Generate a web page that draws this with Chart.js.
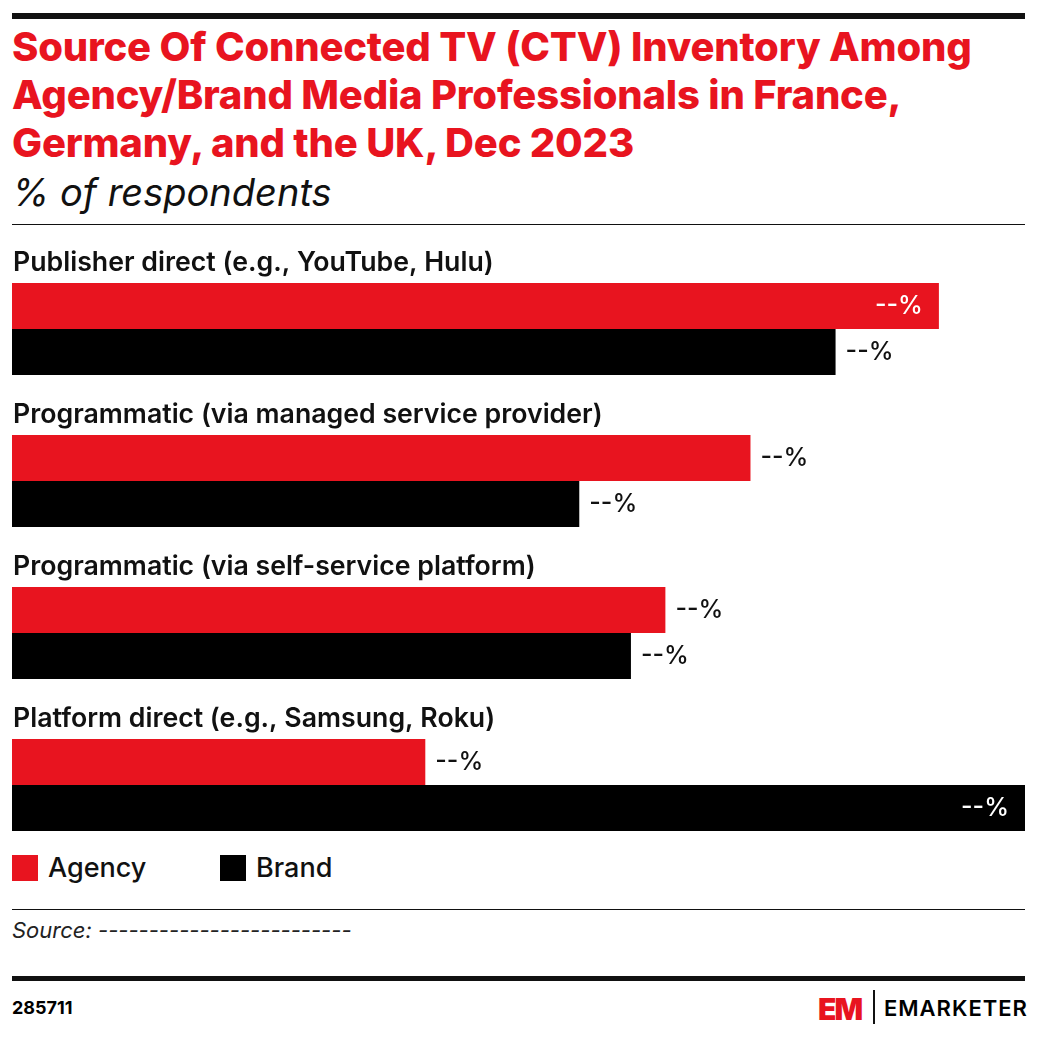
<!DOCTYPE html>
<html><head><meta charset="utf-8">
<script src="https://cdn.jsdelivr.net/npm/chart.js@4"></script>
<style>
body{margin:0;width:1038px;height:1037px;background:#fff;font-family:Inter,"Noto Sans",sans-serif;position:relative;overflow:hidden}
.abs{position:absolute}
.title{left:12px;top:23px;color:#e8141f;font-weight:800;font-size:40px;line-height:48px;letter-spacing:-0.2px;white-space:nowrap}
.sub{left:12px;top:169px;font-style:italic;font-size:38px;color:#111}
.rule{left:12px;width:1013px;background:#111}
.leg{top:851px;font-size:27px;font-weight:500;color:#111}
.sq{display:inline-block;width:26px;height:26px;vertical-align:-4px;margin-right:10px}
</style></head><body>
<div class="abs rule" style="top:13px;height:6px"></div>
<div class="abs title">Source Of Connected TV (CTV) Inventory Among<br>Agency/Brand Media Professionals in France,<br>Germany, and the UK, Dec 2023</div>
<div class="abs sub">% of respondents</div>
<div class="abs rule" style="top:224px;height:1px"></div>
<div class="abs" style="left:12px;top:230px;width:1013px;height:608px"><canvas id="c"></canvas></div>
<div class="abs leg" style="left:12px"><span class="sq" style="background:#e8141f"></span>Agency</div>
<div class="abs leg" style="left:220px"><span class="sq" style="background:#000"></span>Brand</div>
<div class="abs rule" style="top:909px;height:1px"></div>
<div class="abs" style="left:12px;top:917px;font-style:italic;font-size:22px;color:#222">Source: -------------------------</div>
<div class="abs rule" style="top:976px;height:5px"></div>
<div class="abs" style="left:12px;top:997px;font-weight:700;font-size:18px">285711</div>
<div class="abs" style="left:818px;top:991px;font-weight:900;font-size:30px;color:#e8141f;letter-spacing:-2px">EM</div>
<div class="abs" style="left:873px;top:990px;width:2px;height:34px;background:#111"></div>
<div class="abs" style="left:884px;top:995px;font-weight:600;font-size:22px;letter-spacing:1px">EMARKETER</div>
<script>
const categories = ['Publisher direct (e.g., YouTube, Hulu)','Programmatic (via managed service provider)','Programmatic (via self-service platform)','Platform direct (e.g., Samsung, Roku)'];
const agency = [91.5, 72.9, 64.5, 40.8];
const brand = [81.3, 56.0, 61.1, 100];
const valueLabel = '--%';

const labelsPlugin = {
  id: 'labels',
  afterDatasetsDraw(chart) {
    const ctx = chart.ctx;
    ctx.save();
    ctx.textBaseline = 'middle';
    chart.getDatasetMeta(0).data.forEach((el, i) => {
      ctx.fillStyle = '#111';
      ctx.font = '600 26.7px Inter, sans-serif';
      ctx.textAlign = 'left';
      ctx.fillText(categories[i], 1, el.y + 3);
    });
    [1, 2].forEach(d => {
      const vals = chart.data.datasets[d].data;
      chart.getDatasetMeta(d).data.forEach((el, i) => {
        ctx.font = '500 25px Inter, sans-serif';
        if (vals[i] > 88) { ctx.fillStyle = '#fff'; ctx.textAlign = 'right'; ctx.fillText(valueLabel, el.x - 16, el.y); }
        else { ctx.fillStyle = '#111'; ctx.textAlign = 'left'; ctx.fillText(valueLabel, el.x + 10, el.y); }
      });
    });
    ctx.restore();
  }
};

new Chart(document.getElementById('c'), {
  type: 'bar',
  data: {
    labels: categories,
    datasets: [
      { label: '', data: categories.map(() => 0), backgroundColor: 'rgba(0,0,0,0)' },
      { label: 'Agency', data: agency, backgroundColor: '#e8141f' },
      { label: 'Brand', data: brand, backgroundColor: '#000' }
    ]
  },
  options: {
    indexAxis: 'y', responsive: true, maintainAspectRatio: false, animation: false,
    layout: { padding: 0 },
    datasets: { bar: { categoryPercentage: 0.908, barPercentage: 1 } },
    plugins: { legend: { display: false }, tooltip: { enabled: false } },
    scales: {
      x: { display: false, min: 0, max: 100 },
      y: { display: false }
    }
  },
  plugins: [labelsPlugin]
});
</script>
</body></html>
